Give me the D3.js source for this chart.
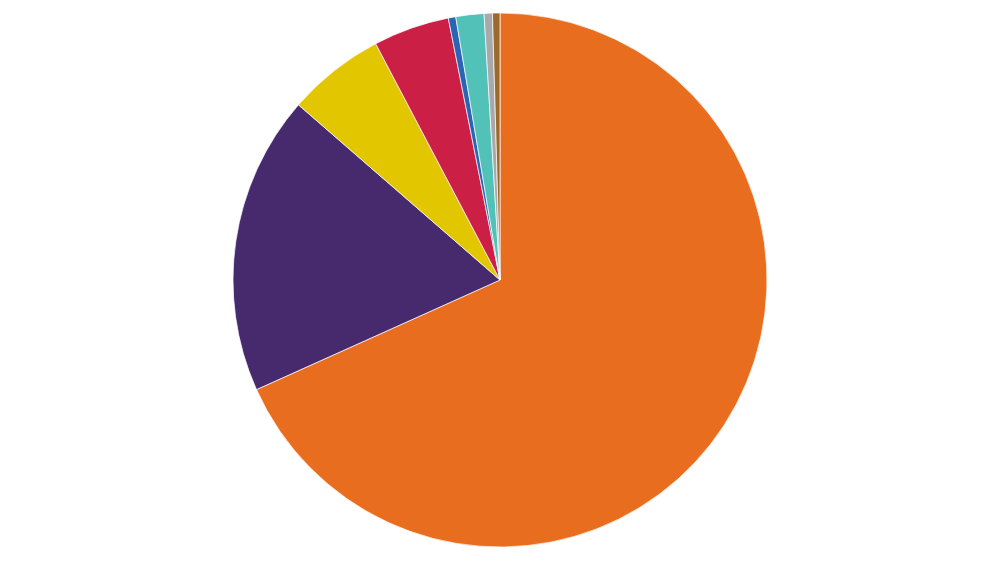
<!DOCTYPE html>
<html>
<head>
<meta charset="utf-8">
<script src="https://cdn.jsdelivr.net/npm/d3@7"></script>
<style>
  html, body { margin: 0; padding: 0; background: #fff; }
</style>
</head>
<body>
<div id="chart"></div>
<script>
// slice data, clockwise from 12 o'clock
const categories = ['A', 'B', 'C', 'D', 'E', 'F', 'G', 'H'];
const values = [68.2, 18.1, 5.9, 4.6, 0.45, 1.7, 0.5, 0.45];
const colors = ['#E86D1F', '#472A6E', '#E2C700', '#CC1F46', '#2A64B4', '#52C1B8', '#A7A9AC', '#9C6A2A'];

let width = 1000;
let height = 563;
let radius = 267;

let svg = d3.select('#chart')
  .append('svg')
  .attr('width', width)
  .attr('height', height)
  .append('g')
  .attr('transform', `translate(${width / 2}, 280)`);

let pie = d3.pie().sort(null).value((d) => d.value);
let arc = d3.arc().innerRadius(0).outerRadius(radius);

let data = categories.map((c, i) => ({ name: c, value: values[i], color: colors[i] }));

svg.selectAll('path')
  .data(pie(data))
  .enter()
  .append('path')
  .attr('d', arc)
  .attr('fill', (d) => d.data.color)
  .attr('stroke', '#fff')
  .attr('stroke-width', 0.7);
</script>
</body>
</html>
